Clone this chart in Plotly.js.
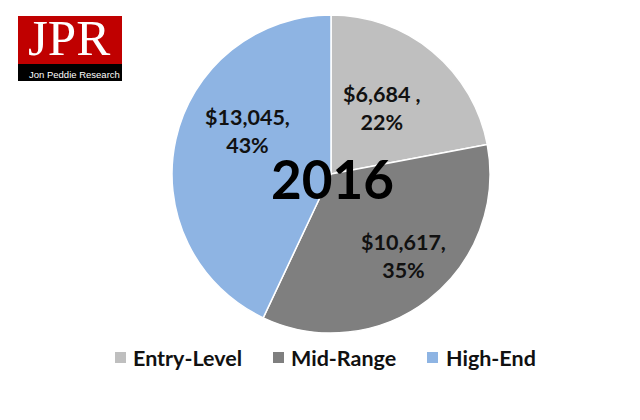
<!DOCTYPE html>
<html><head><meta charset="utf-8">
<script src="https://cdn.plot.ly/plotly-3.0.1.min.js"></script>
<style>html,body{margin:0;padding:0;background:#fff}</style></head>
<body><div id="c" style="width:640px;height:420px"></div>
<script>
const categories = ["Entry-Level","Mid-Range","High-End"];
const values = [6684,10617,13045];
const percents = ["22%","35%","43%"];
const dollarLabels = ["$6,684 ,","$10,617,","$13,045,"];
const colors = ["#bfbfbf","#7f7f7f","#8eb4e3"];
const labelX = [382,403,247];
const labelY = [108,256,131];
const legendSwatchX = [115,273,427];
const legendTextX = [131,289,444];
const W=640,H=420;
const font='Lato, "Open Sans", sans-serif';
const note=(x,y,text,size,color,family,xanchor)=>({xref:'paper',yref:'paper',x:x/W,y:1-y/H,xanchor:xanchor||'center',yanchor:'middle',
  text:text,showarrow:false,align:'center',font:{family:family||font,size:size,color:color}});
const rect=(x0,y0,x1,y1,c)=>({type:'rect',xref:'paper',yref:'paper',x0:x0/W,x1:x1/W,y0:1-y0/H,y1:1-y1/H,fillcolor:c,line:{width:0},layer:'below'});
const anns = categories.map((c,i)=>note(labelX[i],labelY[i],'<b>'+dollarLabels[i]+'<br>'+percents[i]+'</b>',21.5,'#111'));
anns.push(note(332,178,'<b>2016</b>',53,'#000'));
anns.push(note(69,38,'JPR',51,'#fff','"Liberation Serif",serif'));
anns.push(note(74,74,'Jon Peddie Research',9.5,'#fff','"Liberation Sans",sans-serif'));
categories.forEach((c,i)=>anns.push(note(legendTextX[i],358,'<b>'+c+'</b>',21.5,'#111',font,'left')));
const shapes=[rect(18,16,122,64,'#c00000'),rect(18,64,122,81,'#000')];
categories.forEach((c,i)=>shapes.push(rect(legendSwatchX[i],352,legendSwatchX[i]+11,363,colors[i])));
Plotly.newPlot('c',[{type:'pie',labels:categories,values:values,sort:false,direction:'clockwise',rotation:0,
  marker:{colors:colors,line:{color:'#fff',width:1.5}},textinfo:'none',hoverinfo:'label+value+percent',
  domain:{x:[172/W,490/W],y:[1-333/H,1-15/H]}}],
 {width:W,height:H,margin:{l:0,r:0,t:0,b:0},paper_bgcolor:'#fff',showlegend:false,shapes:shapes,annotations:anns},
 {displayModeBar:false,staticPlot:true});
</script></body></html>
